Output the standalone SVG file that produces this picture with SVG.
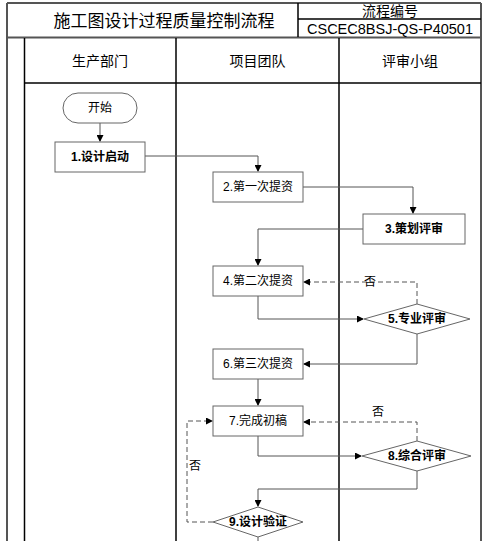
<svg xmlns="http://www.w3.org/2000/svg" width="487" height="541" viewBox="0 0 487 541">
<style>
text{font-family:"Liberation Sans","Noto Sans CJK SC",sans-serif;fill:#000;text-anchor:middle;dominant-baseline:central}
.frame{stroke:#555;stroke-width:2;fill:none}
.lane{stroke:#000;stroke-width:1.5;fill:none}
.box{fill:#fff;stroke:#666;stroke-width:1}
.lbl{font-size:12px}
.b{font-weight:bold}
.c{fill:none;stroke:#555;stroke-width:1}
.d{fill:none;stroke:#555;stroke-width:1;stroke-dasharray:5,3}
</style>
<defs>
<marker id="ah" markerWidth="7" markerHeight="7" refX="6" refY="3.5" orient="auto" markerUnits="userSpaceOnUse">
<path d="M0,0 L7,3.5 L0,7 Z" fill="#000"/>
</marker>
</defs>
<rect width="487" height="541" fill="#fff"/>
<g id="frame">
<line class="frame" x1="7" y1="3" x2="481" y2="3"/>
<line class="frame" x1="7" y1="3" x2="7" y2="541"/>
<line class="frame" x1="481" y1="3" x2="481" y2="541"/>
<line class="frame" x1="7" y1="37.5" x2="481" y2="37.5"/>
<line class="lane" x1="298" y1="3" x2="298" y2="37"/>
<line class="lane" x1="298" y1="19" x2="481" y2="19"/>
<line class="lane" x1="24.5" y1="38" x2="24.5" y2="541"/>
<line class="lane" x1="24.5" y1="83" x2="481" y2="83"/>
<line class="lane" x1="176" y1="38" x2="176" y2="541"/>
<line class="lane" x1="339" y1="38" x2="339" y2="541"/>
<text x="164" y="21" font-size="17">施工图设计过程质量控制流程</text>
<text x="390" y="11" font-size="14">流程编号</text>
<text x="390" y="29" font-size="14.5">CSCEC8BSJ-QS-P40501</text>
<text x="100" y="61" font-size="14">生产部门</text>
<text x="257.5" y="61" font-size="14">项目团队</text>
<text x="410" y="61" font-size="14">评审小组</text>
</g>
<g id="connectors">
<path class="c" d="M100,123 V141" marker-end="url(#ah)"/>
<path class="c" d="M145,156 H258 V171" marker-end="url(#ah)"/>
<path class="c" d="M303,187 H413 V213" marker-end="url(#ah)"/>
<path class="c" d="M363,229 H258 V265" marker-end="url(#ah)"/>
<path class="d" d="M417,304 V282 H304" marker-end="url(#ah)"/>
<text class="lbl" x="370" y="282">否</text>
<path class="c" d="M258,296 V319 H363" marker-end="url(#ah)"/>
<path class="c" d="M417,334 V364 H304" marker-end="url(#ah)"/>
<path class="c" d="M258,379 V405" marker-end="url(#ah)"/>
<path class="d" d="M417,441 V422 H304" marker-end="url(#ah)"/>
<text class="lbl" x="378" y="412">否</text>
<path class="c" d="M258,436 V456 H361" marker-end="url(#ah)"/>
<path class="c" d="M417,470 V489 H258 V506" marker-end="url(#ah)"/>
<path class="d" d="M213,522 H187 V421 H212" marker-end="url(#ah)"/>
<text class="lbl" x="195" y="466">否</text>
<path class="c" d="M258,537 V541"/>
</g>
<g id="start">
<rect class="box" x="63" y="93" width="74" height="30" rx="15"/>
<text class="lbl" x="100" y="108">开始</text>
</g>
<g id="n1">
<rect class="box" x="55" y="142" width="90" height="30"/>
<text class="lbl b" x="100" y="157">1.设计启动</text>
</g>
<g id="n2">
<rect class="box" x="213" y="172" width="90" height="30"/>
<text class="lbl" x="258" y="187">2.第一次提资</text>
</g>
<g id="n3">
<rect class="box" x="363" y="214" width="102" height="30"/>
<text class="lbl b" x="414" y="229">3.策划评审</text>
</g>
<g id="n4">
<rect class="box" x="213" y="266" width="90" height="30"/>
<text class="lbl" x="258" y="281">4.第二次提资</text>
</g>
<g id="n5">
<polygon class="box" points="364,319 417,304 470,319 417,334"/>
<text class="lbl b" x="417" y="319">5.专业评审</text>
</g>
<g id="n6">
<rect class="box" x="213" y="349" width="90" height="30"/>
<text class="lbl" x="258" y="364">6.第三次提资</text>
</g>
<g id="n7">
<rect class="box" x="213" y="406" width="90" height="30"/>
<text class="lbl" x="258" y="421">7.完成初稿</text>
</g>
<g id="n8">
<polygon class="box" points="362,456 417,441 471,456 417,471"/>
<text class="lbl b" x="417" y="456">8.综合评审</text>
</g>
<g id="n9">
<polygon class="box" points="213,522 258,507 303,522 258,537"/>
<text class="lbl b" x="258" y="522">9.设计验证</text>
</g>
</svg>
